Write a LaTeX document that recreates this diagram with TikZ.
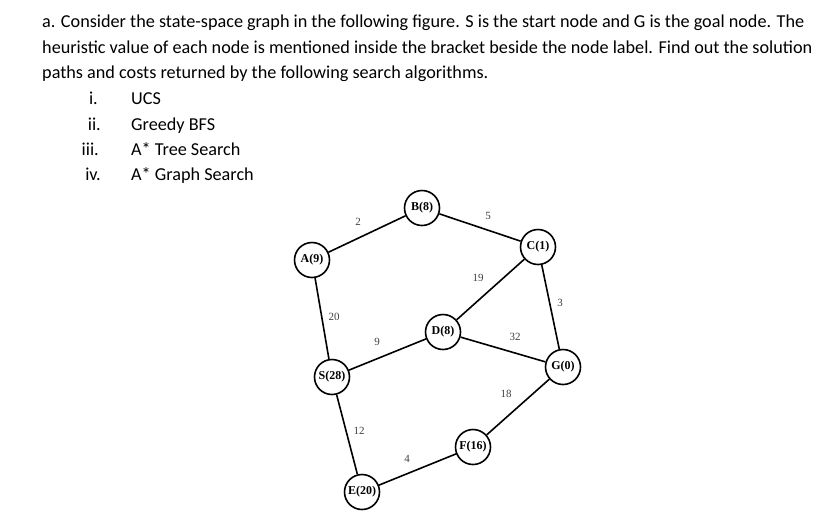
\documentclass[tikz,border=0pt]{standalone}
\usepackage{fontspec}
\setmainfont{Carlito}
\newfontfamily\timesf{Liberation Serif}
\begin{document}
\begin{tikzpicture}[x=1pt,y=-1pt,
  st/.style={circle,draw,line width=1.6pt,minimum size=35pt,inner sep=0pt,font=\timesf\bfseries\fontsize{12}{14}\selectfont},
  ed/.style={line width=1.6pt},
  wl/.style={font=\timesf\fontsize{11}{13}\selectfont,text=black!75},
  tx/.style={anchor=base west,inner sep=0pt,font=\fontsize{18.2}{21}\selectfont},
  rn/.style={anchor=base east,inner sep=0pt,font=\fontsize{18.2}{21}\selectfont}]
\useasboundingbox[fill=white] (0,0) rectangle (837,531);
\node[tx] (t1) at (42,27) {a. Consider the state-space graph in the following figure. S is the start node and G is the goal node. The};
\node[tx] (t2) at (42,53) {heuristic value of each node is mentioned inside the bracket beside the node label. Find out the solution};
\node[tx] (t3) at (42,78) {paths and costs returned by the following search algorithms.};
\node[rn] (r1) at (98,104) {i.};
\node[rn] (r2) at (101,130) {ii.};
\node[rn] (r3) at (99,155) {iii.};
\node[rn] (r4) at (101,180) {iv.};
\node[tx] (l1) at (131,104) {UCS};
\node[tx] (l2) at (131,130) {Greedy BFS};
\node[tx] (l3) at (131,155) {A* Tree Search};
\node[tx] (l4) at (131,180) {A* Graph Search};
\node[st] (B) at (422,208) {B(8)};
\node[st] (A) at (312,260) {A(9)};
\node[st] (C) at (538,247) {C(1)};
\node[st] (D) at (443,332) {D(8)};
\node[st] (S) at (332,377) {S(28)};
\node[st] (G) at (563,367) {G(0)};
\node[st] (F) at (473,447) {F(16)};
\node[st] (E) at (362,492) {E(20)};
\draw[ed] (A) -- (B);
\draw[ed] (B) -- (C);
\draw[ed] (A) -- (S);
\draw[ed] (S) -- (D);
\draw[ed] (D) -- (C);
\draw[ed] (D) -- (G);
\draw[ed] (C) -- (G);
\draw[ed] (S) -- (E);
\draw[ed] (E) -- (F);
\draw[ed] (F) -- (G);
\node[wl] (w1) at (358,222) {2};
\node[wl] (w2) at (488,216) {5};
\node[wl] (w3) at (478,278) {19};
\node[wl] (w4) at (334,317) {20};
\node[wl] (w5) at (377,342) {9};
\node[wl] (w6) at (515,337) {32};
\node[wl] (w7) at (560,303) {3};
\node[wl] (w8) at (506,394) {18};
\node[wl] (w9) at (359,431) {12};
\node[wl] (w10) at (407,459) {4};
\end{tikzpicture}
\end{document}
